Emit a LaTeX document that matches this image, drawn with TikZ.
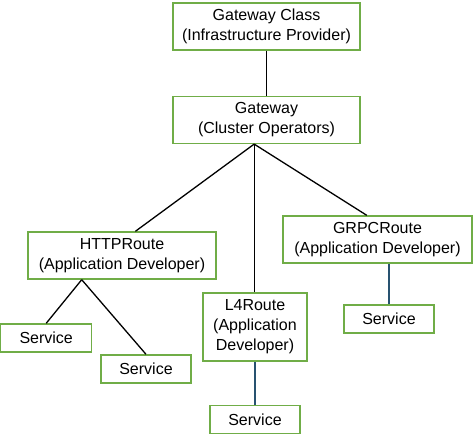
\documentclass[tikz,border=0pt]{standalone}
\usepackage{fontspec}
\setmainfont{Liberation Sans}
\usetikzlibrary{positioning}
\definecolor{boxgreen}{RGB}{112,173,71}
\definecolor{linkblue}{RGB}{40,82,112}

\begin{document}
\begin{tikzpicture}[x=1pt, y=-1pt, node distance=45pt and 2cm,
    box/.style={draw=boxgreen, line width=1.4pt, rectangle, align=center, inner sep=0pt, font=\fontsize{16}{20}\selectfont},
    role/.style={box, minimum width=187pt, minimum height=47pt},
    svc/.style={box, minimum width=90pt, minimum height=28pt},
    link/.style={line width=1.3pt, black},
    sublink/.style={line width=1.3pt, linkblue}]
\useasboundingbox (0,0) rectangle (474,436);

% Top nodes
\node[role] (gwclass) at (266.5,26.5) {Gateway Class\\(Infrastructure Provider)};
\node[role, below=of gwclass] (gateway) {Gateway\\(Cluster Operators)};

% Route nodes
\node[role, minimum width=188pt] (http) at (122,255.5) {HTTPRoute\\(Application Developer)};
\node[role, minimum width=104pt, minimum height=68pt] (l4) at (255,327) {L4Route\\(Application\\Developer)};
\node[role, minimum width=189pt] (grpc) at (377.5,239.5) {GRPCRoute\\(Application Developer)};

% Service nodes
\node[svc, minimum width=91pt] (svc1) at (46.2,338) {Service};
\node[svc] (svc2) at (146,369) {Service};
\node[svc, below=43pt of l4] (svc3) {Service};
\node[svc] (svc4) at (389,319) {Service};

% Connections
\coordinate (hub) at (gateway.-117);
\draw[link] (gwclass) -- (gateway);
\draw[link] (hub) -- (http.61);
\draw[link] (hub) -- (l4.north -| hub);
\draw[link] (hub) -- (grpc.114);
\draw[link] (http.-149) -- (svc1.north);
\draw[link] (http.-149) -- (svc2.north);
\draw[sublink] (l4) -- (svc3);
\draw[sublink] (svc4 |- grpc.south) -- (svc4.north);
\end{tikzpicture}
\end{document}
